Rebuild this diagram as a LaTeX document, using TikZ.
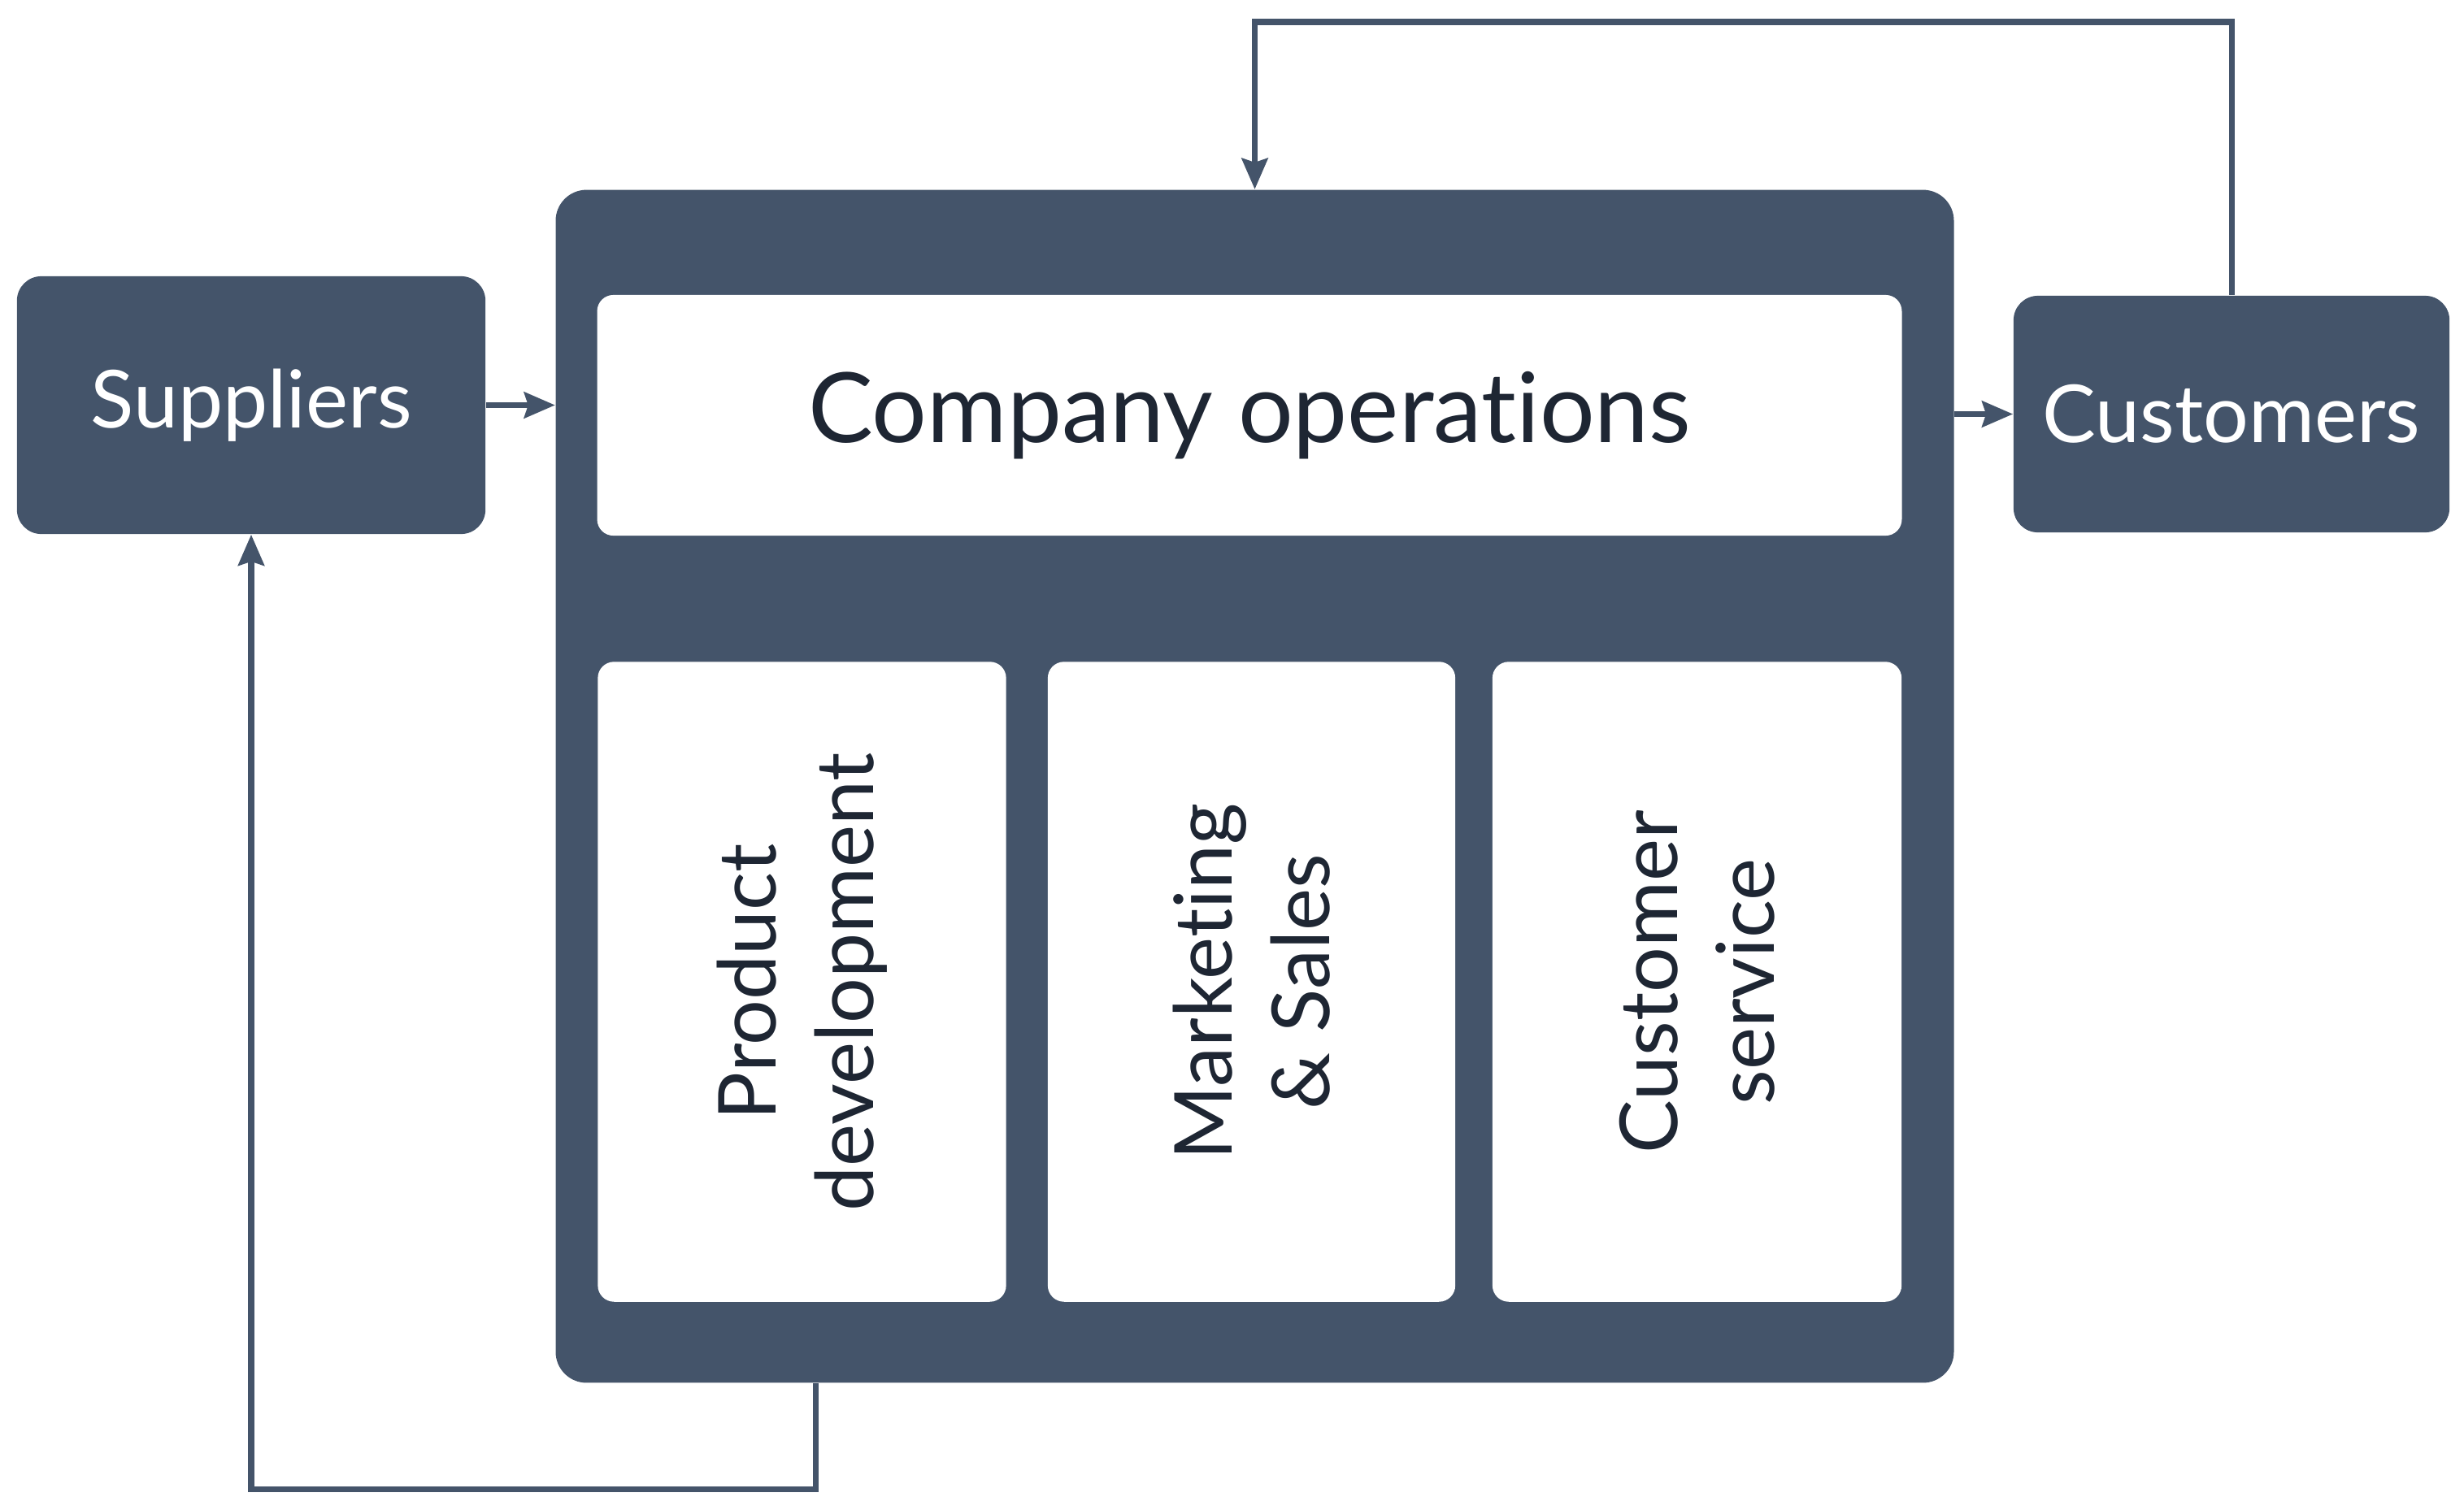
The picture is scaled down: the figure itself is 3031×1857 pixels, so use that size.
\documentclass[tikz,border=0pt]{standalone}
\usepackage{fontspec}
\setmainfont{Lato}[Ligatures={NoCommon}]
\usetikzlibrary{arrows.meta}
\definecolor{slate}{HTML}{44546A}
\definecolor{inktext}{HTML}{1E2633}
\tikzset{
  darkbox/.style={fill=slate, draw=none, rounded corners=0.3cm, inner sep=0pt, text=white, font=\fontsize{28}{33}\selectfont},
  mainbox/.style={fill=slate, draw=none, rounded corners=0.38cm, inner sep=0pt},
  whitebox/.style={fill=white, draw=none, rounded corners=0.2cm, inner sep=0pt, text=inktext, align=center},
  flow/.style={draw=slate, line width=2pt, -{Stealth[length=0.38cm, width=0.32cm, inset=0.05cm]}},
}
\begin{document}
\begin{tikzpicture}[x=0.01cm, y=-0.01cm]
\useasboundingbox (0,0) rectangle (3031,1857);
% outer boxes
\node[darkbox, minimum width=5.76cm, minimum height=3.17cm] (sup) at (309,498.5) {Suppliers};
\node[darkbox, minimum width=5.36cm, minimum height=2.91cm] (cust) at (2745,509.5) {Customers};
\node[mainbox, minimum width=17.19cm, minimum height=14.67cm] (main) at (1543.5,967.5) {};
% inner boxes
\node[whitebox, minimum width=16.04cm, minimum height=2.96cm, font=\fontsize{34}{39}\selectfont] (ops) at (1537,511) {Company operations};
\node[whitebox, rotate=90, minimum width=7.87cm, minimum height=5.02cm, font=\fontsize{28}{34}\selectfont] (pd) at (986.5,1208) {Product\\development};
\node[whitebox, rotate=90, minimum width=7.87cm, minimum height=5.01cm, font=\fontsize{28}{34}\selectfont] (ms) at (1539.5,1208) {Marketing\\\& Sales};
\node[whitebox, rotate=90, minimum width=7.87cm, minimum height=5.03cm, font=\fontsize{28}{34}\selectfont] (cs) at (2087.5,1208) {Customer\\service};
% routing coordinates
\coordinate (toprow) at (0,27);
\coordinate (botrow) at (0,1832);
\coordinate (pdx) at (1003,0);
% connectors
\draw[flow] (sup.east) -- (sup.east -| main.west);
\draw[flow] (cust.west -| main.east) -- (cust.west);
\draw[flow] (cust.north) -- (cust.north |- toprow) -- (main.north |- toprow) -- (main.north);
\draw[flow] (main.south -| pdx) -- (pdx |- botrow) -- (sup.south |- botrow) -- (sup.south);
\end{tikzpicture}
\end{document}
